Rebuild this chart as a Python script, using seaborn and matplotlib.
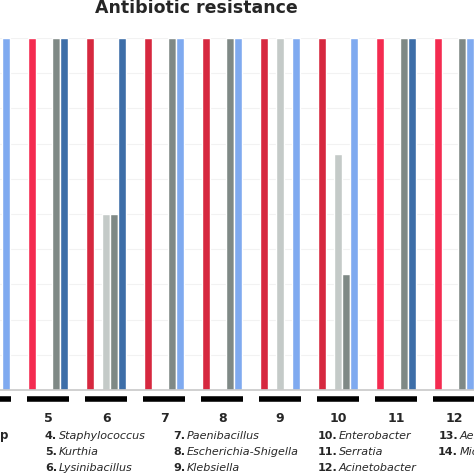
import seaborn as sns
import matplotlib.pyplot as plt
import matplotlib.transforms as mtransforms
import pandas as pd

groups = ["4", "5", "6", "7", "8", "9", "10", "11", "12", "13"]
antibiotics = ["A", "gap", "B", "C", "D"]
# values per antibiotic slot (percent resistant); None = no bar
val_A = [100, 100, 100, 100, 100, 100, 100, 100, 100, 100]
val_B = [None, None, 50, None, None, 100, 67, None, None, None]
val_C = [None, 100, 50, 100, 100, None, 33, 100, 100, None]
val_D = [100, 100, 100, 100, 100, 100, 100, 100, 100, 100]
red_bright = [True, True, False, False, False, False, False, True, True, True]
d_light = [True, False, False, True, True, True, True, False, True, True]

legend_cols = [
    ["4. Staphylococcus", "5. Kurthia", "6. Lysinibacillus"],
    ["7. Paenibacillus", "8. Escherichia-Shigella", "9. Klebsiella"],
    ["10. Enterobacter", "11. Serratia", "12. Acinetobacter"],
    ["13. Aeromonas", "14. Microbacterium", ""],
]

rows = []
for i, g in enumerate(groups):
    for ab, vals in zip(antibiotics, [val_A, [None] * 10, val_B, val_C, val_D]):
        rows.append({"group": g, "ab": ab, "value": vals[i] if vals[i] is not None else 0})
df = pd.DataFrame(rows)

sns.set_style("white")
fig = plt.figure(figsize=(4.74, 4.74), dpi=100)
ax = fig.add_axes([0, 84 / 474, 1, 352 / 474])
pal = {"A": "#d6283f", "gap": "#ffffff", "B": "#c4cac8", "C": "#7f8986", "D": "#3d6ea8"}
sns.barplot(data=df, x="group", y="value", hue="ab", hue_order=antibiotics,
            order=groups, palette=pal, width=0.69, gap=0, saturation=1,
            legend=False, ax=ax)

# recolour reds and blues per group
for ci, cont in enumerate(ax.containers):
    ab = antibiotics[ci]
    for i, bar in enumerate(cont):
        if ab == "A" and red_bright[i]:
            bar.set_facecolor("#f42b50")
        if ab == "D" and d_light[i]:
            bar.set_facecolor("#7faaf0")

ax.set_yticks(range(0, 101, 10))
ax.yaxis.grid(True, color="#f2f2f2", lw=0.8)
ax.set_axisbelow(True)
ax.set_yticklabels([])
ax.tick_params(left=False, bottom=False)
for s in ["top", "left", "right"]:
    ax.spines[s].set_visible(False)
ax.spines["bottom"].set_color("#c8c8c8")
ax.spines["bottom"].set_linewidth(1.2)
ax.set_xlabel("")
ax.set_ylabel("")
ax.set_xticks(range(len(groups)))
ax.set_xticklabels([g if g not in ("4", "13") else "" for g in groups],
                   fontsize=9, fontweight="bold")
ax.tick_params(axis="x", pad=12)

trans = mtransforms.blended_transform_factory(ax.transData, ax.transAxes)
for i in range(len(groups)):
    ax.plot([i - 0.36, i + 0.36], [-0.025, -0.025], color="black", lw=4,
            transform=trans, clip_on=False, solid_capstyle="butt")

ax.set_ylim(0, 100)
ax.set_xlim(0.17, 0.17 + 474 / 58)

fig.text(0.415, 0.983, "Antibiotic resistance", ha="center", va="center",
         fontsize=12.5, fontweight="bold")

col_x = [57, 185, 337, 458]
row_y = [436, 452, 468]
fig.text(0, 1 - 436 / 474, "p", fontsize=8.5, fontweight="bold", va="center")
for cx, items in zip(col_x, legend_cols):
    for ry, item in zip(row_y, items):
        if not item:
            continue
        num, name = item.split(" ", 1)
        fig.text(cx / 474, 1 - ry / 474, num, ha="right", va="center",
                 fontsize=8, fontweight="bold")
        fig.text((cx + 2) / 474, 1 - ry / 474, name, ha="left", va="center",
                 fontsize=8, style="italic")

fig.savefig("out.png", dpi=100)
